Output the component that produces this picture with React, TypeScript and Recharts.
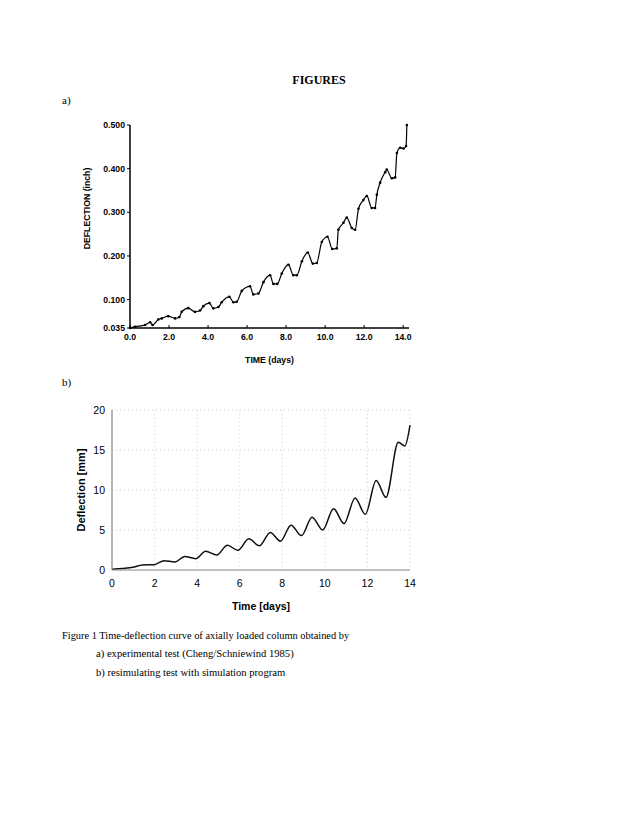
import React from 'react';
import { LineChart, Line, XAxis, YAxis, CartesianGrid, Label } from 'recharts';

// (a) experimental test, deflection in inch over time in days
const expTime = [0, 0.26, 0.77, 1.03, 1.16, 1.45, 1.63, 1.96, 2.31, 2.53, 2.65, 2.99, 3.33, 3.59, 3.76, 4.07, 4.27, 4.53, 4.7, 5.09, 5.3, 5.47, 5.73, 6.15, 6.32, 6.58, 6.84, 7.18, 7.35, 7.55, 7.78, 8.12, 8.37, 8.55, 8.81, 9.11, 9.37, 9.57, 9.83, 10.12, 10.37, 10.6, 10.68, 10.94, 11.11, 11.37, 11.54, 11.71, 11.96, 12.14, 12.39, 12.56, 12.65, 12.82, 13.08, 13.16, 13.42, 13.59, 13.68, 13.85, 14.02, 14.15, 14.19];
const expDefl = [0.035, 0.038, 0.042, 0.048, 0.042, 0.0545, 0.057, 0.062, 0.057, 0.06, 0.072, 0.0805, 0.072, 0.075, 0.085, 0.092, 0.08, 0.083, 0.094, 0.1065, 0.094, 0.095, 0.12, 0.1305, 0.112, 0.114, 0.14, 0.156, 0.136, 0.136, 0.16, 0.18, 0.156, 0.156, 0.188, 0.208, 0.1825, 0.184, 0.232, 0.244, 0.216, 0.2175, 0.26, 0.276, 0.288, 0.264, 0.26, 0.308, 0.328, 0.3375, 0.31, 0.31, 0.34, 0.368, 0.392, 0.398, 0.378, 0.38, 0.436, 0.448, 0.446, 0.452, 0.5];
const expXTicks = [0, 2, 4, 6, 8, 10, 12, 14];
const expYTicks = [0.035, 0.1, 0.2, 0.3, 0.4, 0.5];

// (b) simulation, deflection in mm over time in days
const simTime = [0, 0.5, 0.97, 1.43, 1.98, 2.45, 2.95, 3.42, 3.93, 4.4, 4.92, 5.42, 5.91, 6.43, 6.92, 7.44, 7.91, 8.41, 8.9, 9.4, 9.9, 10.41, 10.9, 11.42, 11.9, 12.41, 12.87, 13.45, 13.76, 14.0];
const simDefl = [0.1, 0.2, 0.33, 0.63, 0.67, 1.17, 1.0, 1.7, 1.42, 2.33, 1.87, 3.1, 2.46, 3.9, 3.02, 4.7, 3.6, 5.6, 4.3, 6.6, 5.0, 7.67, 5.8, 9.0, 6.96, 11.2, 9.08, 15.96, 15.5, 18.1];
const simXTicks = [0, 2, 4, 6, 8, 10, 12, 14];
const simYTicks = [0, 5, 10, 15, 20];

const expData = expTime.map((t, i) => ({ t, d: expDefl[i] }));
const simData = simTime.map((t, i) => ({ t, d: simDefl[i] }));

const SANS = "'Liberation Sans', Arial, Helvetica, sans-serif";
const SERIF = "'Liberation Serif', 'Times New Roman', Times, serif";

const pageText = (top: number, left: number, size: number, bold = false): React.CSSProperties => ({
  position: 'absolute',
  top,
  left,
  fontFamily: SERIF,
  fontSize: size,
  lineHeight: '14px',
  fontWeight: bold ? 700 : 400,
  whiteSpace: 'nowrap',
  color: '#000',
});

const expTick = { fontFamily: SANS, fontSize: 8.7, fontWeight: 700, fill: '#000' };
const simTick = { fontFamily: SANS, fontSize: 10.5, fill: '#000' };

export default function App() {
  return (
    <div style={{ position: 'absolute', left: 0, top: 0, width: 638, height: 826, background: '#fff' }}>
      <div style={{ ...pageText(73, 0, 12, true), width: 638, textAlign: 'center' }}>FIGURES</div>
      <div style={pageText(93, 62, 11)}>a)</div>

      <div style={{ position: 'absolute', left: 60, top: 110 }}>
        <LineChart width={360} height={270} data={expData} margin={{ top: 15, right: 11, bottom: 17, left: 0 }}>
          <XAxis
            dataKey="t"
            type="number"
            domain={[0, 14.3]}
            ticks={expXTicks}
            interval={0}
            tickFormatter={(v: number) => v.toFixed(1)}
            axisLine={{ stroke: '#000', strokeWidth: 1.5 }}
            tickLine={{ stroke: '#000' }}
            tickSize={-3}
            tickMargin={9}
            height={35}
            tick={expTick}
          >
            <Label
              value="TIME (days)"
              position="insideBottom"
              offset={0}
              style={{ fontFamily: SANS, fontSize: 8.7, fontWeight: 700, fill: '#000' }}
            />
          </XAxis>
          <XAxis
            xAxisId="top"
            orientation="top"
            type="number"
            domain={[0, 14.3]}
            tick={false}
            tickLine={false}
            height={0}
            axisLine={{ stroke: '#000', strokeWidth: 1.2 }}
          />
          <YAxis
            dataKey="d"
            type="number"
            domain={[0.035, 0.5]}
            ticks={expYTicks}
            interval={0}
            tickFormatter={(v: number) => v.toFixed(3)}
            axisLine={{ stroke: '#000', strokeWidth: 1.5 }}
            tickLine={{ stroke: '#000' }}
            tickSize={3}
            tickMargin={2}
            width={70}
            tick={expTick}
          >
            <Label
              content={(props: any) => {
                const vb = props.viewBox || { x: 0, y: 0, width: 70, height: 200 };
                const x = vb.x + 30;
                const y = vb.y + vb.height / 2 - 18;
                return (
                  <text
                    x={x}
                    y={y}
                    transform={`rotate(-90 ${x} ${y})`}
                    textAnchor="middle"
                    style={{ fontFamily: SANS, fontSize: 8.7, fontWeight: 700, fill: '#000' }}
                  >
                    DEFLECTION (inch)
                  </text>
                );
              }}
            />
          </YAxis>
          <YAxis
            yAxisId="right"
            orientation="right"
            type="number"
            domain={[0.035, 0.5]}
            tick={false}
            tickLine={false}
            width={0}
            axisLine={{ stroke: '#000', strokeWidth: 1.5 }}
          />
          <Line
            dataKey="d"
            type="monotone"
            stroke="#000"
            strokeWidth={1.2}
            dot={{ r: 1.3, fill: '#000', stroke: 'none' }}
            isAnimationActive={false}
          />
        </LineChart>
      </div>

      <div style={pageText(375, 62, 11)}>b)</div>

      <div style={{ position: 'absolute', left: 60, top: 395 }}>
        <LineChart width={370} height={225} data={simData} margin={{ top: 15, right: 20, bottom: 10, left: 0 }}>
          <CartesianGrid stroke="#cfcfcf" strokeDasharray="1 3" />
          <XAxis
            dataKey="t"
            type="number"
            domain={[0, 14]}
            ticks={simXTicks}
            interval={0}
            axisLine={{ stroke: '#888', strokeWidth: 1.2 }}
            tickLine={false}
            tickSize={4}
            tickMargin={6}
            height={40}
            tick={simTick}
          >
            <Label
              value="Time [days]"
              position="insideBottom"
              offset={0}
              style={{ fontFamily: SANS, fontSize: 10.5, fontWeight: 700, fill: '#000' }}
            />
          </XAxis>
          <XAxis
            xAxisId="top"
            orientation="top"
            type="number"
            domain={[0, 14]}
            tick={false}
            tickLine={false}
            height={0}
            axisLine={{ stroke: '#888', strokeWidth: 1.2 }}
          />
          <YAxis
            dataKey="d"
            type="number"
            domain={[0, 20]}
            ticks={simYTicks}
            interval={0}
            axisLine={{ stroke: '#888', strokeWidth: 1.2 }}
            tickLine={false}
            tickSize={4}
            tickMargin={3}
            width={52}
            tick={simTick}
          >
            <Label
              content={(props: any) => {
                const vb = props.viewBox || { x: 0, y: 0, width: 52, height: 160 };
                const x = vb.x + 25;
                const y = vb.y + vb.height / 2;
                return (
                  <text
                    x={x}
                    y={y}
                    transform={`rotate(-90 ${x} ${y})`}
                    textAnchor="middle"
                    style={{ fontFamily: SANS, fontSize: 11, fontWeight: 700, fill: '#000' }}
                  >
                    Deflection [mm]
                  </text>
                );
              }}
            />
          </YAxis>
          <YAxis
            yAxisId="right"
            orientation="right"
            type="number"
            domain={[0, 20]}
            tick={false}
            tickLine={false}
            width={0}
            axisLine={{ stroke: '#888', strokeWidth: 1.2 }}
          />
          <Line
            dataKey="d"
            type="monotone"
            stroke="#111"
            strokeWidth={1.5}
            dot={false}
            isAnimationActive={false}
          />
        </LineChart>
      </div>

      <div style={pageText(629, 62, 10.4)}>Figure 1 Time-deflection curve of axially loaded column obtained by</div>
      <div style={pageText(647, 96, 10.6)}>a) experimental test (Cheng/Schniewind 1985)</div>
      <div style={pageText(666, 96, 10.6)}>b) resimulating test with simulation program</div>
    </div>
  );
}
